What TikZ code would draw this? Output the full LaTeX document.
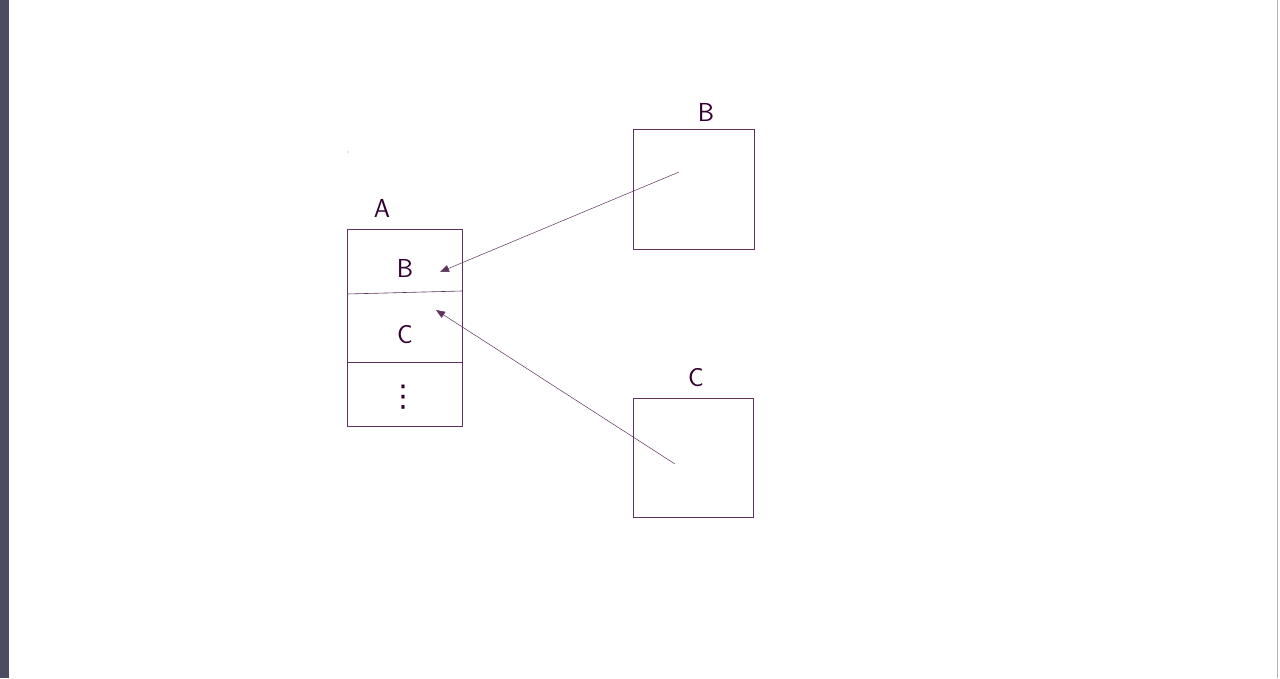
\documentclass[tikz,border=0pt]{standalone}
\usepackage{fontspec}
\newfontfamily\djv{DejaVu Sans}
\usetikzlibrary{arrows.meta}
\begin{document}
\begin{tikzpicture}[x=1pt,y=-1pt,
  ink/.style={draw=black!45!violet!60!gray, line width=0.6pt},
  lbl/.style={text=black!60!violet, font=\sffamily\fontsize{26}{26}\selectfont, inner sep=0pt},
  arr/.style={ink, line width=0.5pt, -{Triangle[length=9pt,width=7pt]}}]
\useasboundingbox (0,0) rectangle (1280,678);
\fill[white] (0,0) rectangle (1280,678);
\fill[black!80!blue!40!gray] (0,0) rectangle (9,678);
\draw[black!30, line width=1pt] (1277,0) -- (1277,678);
% box A
\node[ink, minimum width=115pt, minimum height=197pt, anchor=north west, inner sep=0pt] (A) at (347,229) {};
\draw[ink] (347,294) -- (462,291);
\draw[ink] (347,362) -- (462,362);
\node[lbl] (la) at (382,208) {A};
\node[lbl] (lab) at (405,268) {B};
\node[lbl] (lac) at (405,335) {C};
\node[lbl, font=\djv\fontsize{30}{30}\selectfont] (lad) at (403,397) {⋮};
% box B
\node[ink, minimum width=121pt, minimum height=120pt, anchor=north west, inner sep=0pt] (B) at (633,129) {};
\node[lbl] (lb) at (706,112) {B};
\coordinate (bs) at (679,172);
\coordinate (be) at (440,272);
% box C
\node[ink, minimum width=120pt, minimum height=119pt, anchor=north west, inner sep=0pt] (C) at (633,398) {};
\node[lbl] (lc) at (696,378) {C};
\coordinate (cs) at (675,464);
\coordinate (ce) at (436,310);
\draw[arr] (bs) -- (be);
\draw[arr] (cs) -- (ce);
\fill[black!40] (348,152) circle (0.6pt);
\end{tikzpicture}
\end{document}
